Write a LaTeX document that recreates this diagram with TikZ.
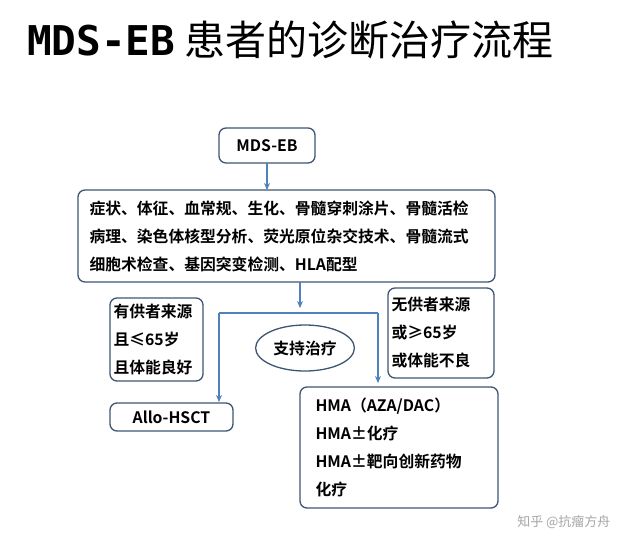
\documentclass[tikz,border=0pt]{standalone}
\usepackage{fontspec}
\setmainfont{Noto Sans CJK SC}
\newfontfamily\cjk{Noto Sans CJK SC}
\newfontfamily\cjkb{Noto Sans CJK SC Bold}
\newfontfamily\monof{DejaVu Sans Mono}
\usetikzlibrary{shapes.geometric,arrows.meta}
\definecolor{bd}{HTML}{3F5673}
\definecolor{ar}{HTML}{4F81BD}
\begin{document}
\begin{tikzpicture}[x=1pt,y=-1pt,
  bx/.style={draw=bd,line width=1.3pt,rounded corners=7pt},
  tx/.style={font=\cjkb\fontsize{15.8}{28}\selectfont,align=left,anchor=west},
  ln/.style={draw=ar,line width=1.2pt},
  arr/.style={ln,-{Stealth[length=7pt,width=6pt]}}]
\useasboundingbox (0,0) rectangle (618,549);
\fill[white] (0,0) rectangle (618,549);
\node[anchor=west,inner sep=0pt,font=\fontsize{41}{44}\selectfont] (title) at (27,40) {{\monof\bfseries MDS-EB} {\cjk 患者的诊断治疗流程}};
\draw[bx] (219,128) rectangle (315,163);
\node[tx,anchor=center] (m) at (267,145.5) {MDS-EB};
\coordinate (mb) at (267,163);
\draw[bx] (78,190) rectangle (495,282);
\node[tx] (big) at (86,236) {症状、体征、血常规、生化、骨髓穿刺涂片、骨髓活检\\病理、染色体核型分析、荧光原位杂交技术、骨髓流式\\细胞术检查、基因突变检测、HLA配型};
\coordinate (bt) at (267,190);
\draw[arr] (mb) -- (bt);
\draw[bx] (110,298) rectangle (203,381);
\node[tx] (l) at (110,339.5) {有供者来源\\且≤65岁\\且体能良好};
\draw[bx] (388,288) rectangle (494,378);
\node[tx] (r) at (388,333) {无供者来源\\或≥65岁\\或体能不良};
\node[draw=bd,line width=1.3pt,ellipse,minimum width=96pt,minimum height=46pt,font=\cjkb\fontsize{15.8}{17}\selectfont] (s) at (305,348) {支持治疗};
\draw[bx] (110,403) rectangle (233,431);
\node[tx,anchor=center] (a) at (171.5,417) {Allo-HSCT};
\draw[bx] (300,387) rectangle (498,508);
\node[tx] (h) at (312,447.5) {HMA（AZA/DAC）\\HMA±化疗\\HMA±靶向创新药物\\化疗};
\coordinate (b1) at (300,282);
\coordinate (b2) at (300,308);
\coordinate (jl) at (219,313);
\coordinate (jr) at (378,313);
\coordinate (at) at (219,402);
\coordinate (ht) at (378,383);
\draw[arr] (b1) -- (b2);
\draw[ln] (jl) -- (jr);
\draw[arr] (jl) -- (at);
\draw[arr] (jr) -- (ht);
\node[font=\cjk\fontsize{13}{14}\selectfont,text=gray!70,anchor=east] (w) at (614,522) {知乎 @抗瘤方舟};
\end{tikzpicture}
\end{document}
